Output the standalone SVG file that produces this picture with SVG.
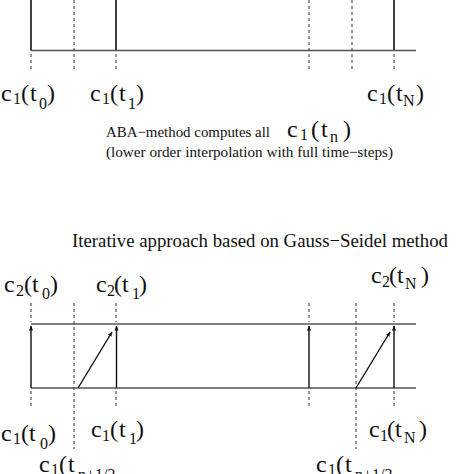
<svg xmlns="http://www.w3.org/2000/svg" width="474" height="474" viewBox="0 0 474 474">
<style>
text{font-family:"Liberation Serif","Times New Roman",serif;fill:#111}
.m{font-size:24px}
.s{font-size:16px}
.t{font-size:15px}
.h{font-size:19px}
.axis{stroke:#555;stroke-width:1.3;fill:none}
.sol{stroke:#111;stroke-width:1.6;fill:none}
.dash{stroke:#333;stroke-width:1;stroke-dasharray:3 3;fill:none}
.arr{stroke:#111;stroke-width:1.4;fill:none;marker-end:url(#ah)}
</style>
<defs>
<marker id="ah" viewBox="0 0 10 10" refX="9" refY="5" markerWidth="5" markerHeight="5" orient="auto" markerUnits="userSpaceOnUse">
<path d="M0,1 L10,5 L0,9 z" fill="#111"/>
</marker>
</defs>
<rect width="474" height="474" fill="#fff"/>
<g id="connectors">
<line class="sol" x1="31" y1="0" x2="31" y2="50.5"/>
<line class="sol" x1="116" y1="0" x2="116" y2="50.5"/>
<line class="sol" x1="394" y1="0" x2="394" y2="50.5"/>
<line class="axis" x1="31" y1="50.5" x2="416" y2="50.5"/>
<line class="dash" x1="31" y1="54" x2="31" y2="71"/>
<line class="dash" x1="116" y1="54" x2="116" y2="71"/>
<line class="dash" x1="394" y1="54" x2="394" y2="71"/>
<line class="dash" x1="74" y1="0" x2="74" y2="71"/>
<line class="dash" x1="309" y1="0" x2="309" y2="71"/>
<line class="dash" x1="352" y1="0" x2="352" y2="71"/>
<line class="axis" x1="31" y1="324" x2="416" y2="324"/>
<line class="axis" x1="31" y1="388" x2="416" y2="388"/>
<line class="dash" x1="31" y1="303" x2="31" y2="322"/>
<line class="dash" x1="116" y1="303" x2="116" y2="322"/>
<line class="dash" x1="309" y1="303" x2="309" y2="322"/>
<line class="dash" x1="394" y1="303" x2="394" y2="322"/>
<line class="dash" x1="31" y1="391" x2="31" y2="408"/>
<line class="dash" x1="116" y1="391" x2="116" y2="408"/>
<line class="dash" x1="309" y1="391" x2="309" y2="408"/>
<line class="dash" x1="394" y1="391" x2="394" y2="408"/>
<line class="dash" x1="74" y1="303" x2="74" y2="449"/>
<line class="dash" x1="356" y1="303" x2="356" y2="449"/>
<line class="arr" x1="31" y1="388" x2="31" y2="326"/>
<line class="arr" x1="116.5" y1="388" x2="116.5" y2="326"/>
<line class="arr" x1="309" y1="388" x2="309" y2="326"/>
<line class="arr" x1="394" y1="388" x2="394" y2="326"/>
<line class="arr" x1="78" y1="388" x2="112" y2="332"/>
<line class="arr" x1="356" y1="388" x2="390" y2="332"/>
</g>
<g id="label-top-c1t0"><text class="m" y="101"><tspan x="1">c</tspan><tspan class="s" x="13" y="104">1</tspan><tspan x="21" y="101">(</tspan><tspan x="30">t</tspan><tspan class="s" x="39" y="109">0</tspan><tspan x="47" y="101">)</tspan></text></g>
<g id="label-top-c1t1"><text class="m" y="101"><tspan x="90">c</tspan><tspan class="s" x="102" y="104">1</tspan><tspan x="110" y="101">(</tspan><tspan x="119">t</tspan><tspan class="s" x="128" y="109">1</tspan><tspan x="136" y="101">)</tspan></text></g>
<g id="label-top-c1tN"><text class="m" y="101"><tspan x="367">c</tspan><tspan class="s" x="379" y="104">1</tspan><tspan x="387" y="101">(</tspan><tspan x="396">t</tspan><tspan class="s" x="403" y="106">N</tspan><tspan x="416" y="101">)</tspan></text></g>
<g id="caption-aba">
<text class="t" x="106" y="137" textLength="164" lengthAdjust="spacingAndGlyphs">ABA−method computes all</text>
<text class="m" y="137"><tspan x="287">c</tspan><tspan class="s" x="300" y="140">1</tspan><tspan x="311" y="137">(</tspan><tspan x="321">t</tspan><tspan class="s" x="330" y="142">n</tspan><tspan x="343" y="137">)</tspan></text>
<text class="t" x="106" y="157" textLength="287" lengthAdjust="spacingAndGlyphs">(lower order interpolation with full time−steps)</text>
</g>
<g id="title-gs"><text class="h" x="72" y="247" textLength="376" lengthAdjust="spacingAndGlyphs">Iterative approach based on Gauss−Seidel method</text></g>
<g id="label-c2t0"><text class="m" y="292"><tspan x="4">c</tspan><tspan class="s" x="16" y="296">2</tspan><tspan x="24" y="292">(</tspan><tspan x="32">t</tspan><tspan class="s" x="42" y="299">0</tspan><tspan x="50" y="292">)</tspan></text></g>
<g id="label-c2t1"><text class="m" y="292"><tspan x="96">c</tspan><tspan class="s" x="107" y="296">2</tspan><tspan x="114" y="292">(</tspan><tspan x="122">t</tspan><tspan class="s" x="132" y="299">1</tspan><tspan x="139" y="292">)</tspan></text></g>
<g id="label-c2tN"><text class="m" y="283"><tspan x="371">c</tspan><tspan class="s" x="382" y="287">2</tspan><tspan x="389" y="283">(</tspan><tspan x="397">t</tspan><tspan class="s" x="405" y="289">N</tspan><tspan x="421" y="283">)</tspan></text></g>
<g id="label-bot-c1t0"><text class="m" y="441"><tspan x="1">c</tspan><tspan class="s" x="13" y="444">1</tspan><tspan x="21" y="441">(</tspan><tspan x="29">t</tspan><tspan class="s" x="40" y="449">0</tspan><tspan x="48" y="441">)</tspan></text></g>
<g id="label-bot-c1t1"><text class="m" y="437"><tspan x="91">c</tspan><tspan class="s" x="102" y="441">1</tspan><tspan x="110" y="437">(</tspan><tspan x="119">t</tspan><tspan class="s" x="129" y="444">1</tspan><tspan x="136" y="437">)</tspan></text></g>
<g id="label-bot-c1tN"><text class="m" y="437"><tspan x="369">c</tspan><tspan class="s" x="380" y="441">1</tspan><tspan x="387" y="437">(</tspan><tspan x="395">t</tspan><tspan class="s" x="404" y="443">N</tspan><tspan x="419" y="437">)</tspan></text></g>
<g id="label-c1-half-1"><text class="m" y="472"><tspan x="39">c</tspan><tspan class="s" x="51" y="475">1</tspan><tspan x="59" y="472">(</tspan><tspan x="68">t</tspan><tspan class="s" x="78" y="480">n+1/2</tspan></text></g>
<g id="label-c1-half-2"><text class="m" y="472"><tspan x="316">c</tspan><tspan class="s" x="328" y="475">1</tspan><tspan x="336" y="472">(</tspan><tspan x="345">t</tspan><tspan class="s" x="355" y="480">n+1/2</tspan></text></g>
</svg>
